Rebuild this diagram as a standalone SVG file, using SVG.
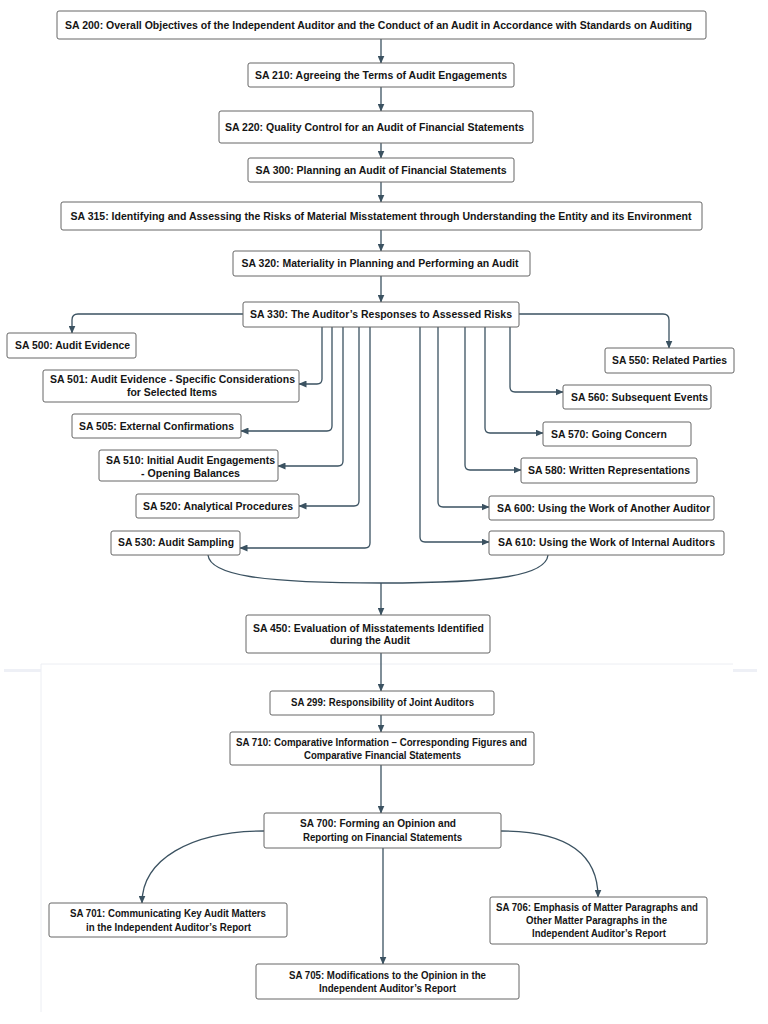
<svg xmlns="http://www.w3.org/2000/svg" width="768" height="1024" viewBox="0 0 768 1024">
<defs>
<marker id="arr" markerUnits="userSpaceOnUse" markerWidth="8" markerHeight="7" refX="7.5" refY="3.5" orient="auto">
<path d="M0,0 L8,3.5 L0,7 z" fill="#3b5261"/>
</marker>
<style>
.box{fill:#fff;stroke:#666;stroke-width:1}
.t{font-family:"Liberation Sans",Arial,sans-serif;font-weight:bold;font-size:10px;fill:#151515;text-anchor:middle}
.c{fill:none;stroke:#3b5261;stroke-width:1.3;marker-end:url(#arr)}
.cn{fill:none;stroke:#3b5261;stroke-width:1.3}
.faint{fill:none;stroke:#eceef3;stroke-width:1}
</style>
</defs>
<rect width="768" height="1024" fill="#fff"/>
<g id="artifacts">
<path class="faint" d="M41,664 H733 M41,664 V1012"/>
<rect x="4" y="669" width="37" height="3" fill="#eef0f6"/>
<rect x="733" y="669" width="24" height="3" fill="#eef0f6"/>
</g>
<g id="connectors">
<path class="c" d="M381,39 V63"/>
<path class="c" d="M381,87 V111"/>
<path class="c" d="M381,143 V158"/>
<path class="c" d="M381,182 V202"/>
<path class="c" d="M381,230 V251"/>
<path class="c" d="M381,276 V302"/>
<path class="c" d="M243,314 H78 Q72,314 72,320 V333"/>
<path class="c" d="M519,314 H663 Q669,314 669,320 V348"/>
<path class="c" d="M322,327 V379 Q322,384 317,384 H299"/>
<path class="c" d="M332,327 V426 Q332,431 327,431 H241"/>
<path class="c" d="M343,327 V461 Q343,466 338,466 H278"/>
<path class="c" d="M359,327 V501 Q359,506 354,506 H299"/>
<path class="c" d="M370,327 V543 Q370,548 365,548 H240"/>
<path class="c" d="M510,327 V387 Q510,392 515,392 H563"/>
<path class="c" d="M485,327 V428 Q485,433 490,433 H543"/>
<path class="c" d="M465,327 V465 Q465,470 470,470 H521"/>
<path class="c" d="M438,327 V502 Q438,507 443,507 H489"/>
<path class="c" d="M420,327 V537 Q420,542 425,542 H489"/>
<path class="cn" d="M208,555 C210,575 260,583 381,583"/>
<path class="cn" d="M548,555 C546,575 500,583 381,583"/>
<path class="c" d="M381,583 V615"/>
<path class="c" d="M381,653 V691"/>
<path class="c" d="M381,715 V732"/>
<path class="c" d="M381,765 V813"/>
<path class="c" d="M264,831 C190,831 142,860 142,903"/>
<path class="c" d="M501,831 C575,831 598,860 598,897"/>
<path class="c" d="M383,848 V964"/>
</g>
<g id="sa200"><rect class="box" x="57" y="11" width="649" height="28" rx="2"/><text class="t" x="378.5" y="28.5" textLength="627" lengthAdjust="spacingAndGlyphs">SA 200: Overall Objectives of the Independent Auditor and the Conduct of an Audit in Accordance with Standards on Auditing</text></g>
<g id="sa210"><rect class="box" x="248" y="63" width="266" height="24" rx="2"/><text class="t" x="381" y="78.5" textLength="252" lengthAdjust="spacingAndGlyphs">SA 210: Agreeing the Terms of Audit Engagements</text></g>
<g id="sa220"><rect class="box" x="219" y="111" width="314" height="32" rx="2"/><text class="t" x="374.5" y="130.5" textLength="299" lengthAdjust="spacingAndGlyphs">SA 220: Quality Control for an Audit of Financial Statements</text></g>
<g id="sa300"><rect class="box" x="248" y="158" width="266" height="24" rx="2"/><text class="t" x="381" y="173.5" textLength="251" lengthAdjust="spacingAndGlyphs">SA 300: Planning an Audit of Financial Statements</text></g>
<g id="sa315"><rect class="box" x="61" y="202" width="641" height="28" rx="2"/><text class="t" x="381" y="219.5" textLength="621" lengthAdjust="spacingAndGlyphs">SA 315: Identifying and Assessing the Risks of Material Misstatement through Understanding the Entity and its Environment</text></g>
<g id="sa320"><rect class="box" x="233" y="251" width="297" height="25" rx="2"/><text class="t" x="380" y="267" textLength="277" lengthAdjust="spacingAndGlyphs">SA 320: Materiality in Planning and Performing an Audit</text></g>
<g id="sa330"><rect class="box" x="243" y="302" width="276" height="25" rx="2"/><text class="t" x="381" y="318" textLength="262" lengthAdjust="spacingAndGlyphs">SA 330: The Auditor’s Responses to Assessed Risks</text></g>
<g id="sa500"><rect class="box" x="7" y="333" width="129" height="25" rx="2"/><text class="t" x="72.5" y="349" textLength="115" lengthAdjust="spacingAndGlyphs">SA 500: Audit Evidence</text></g>
<g id="sa501"><rect class="box" x="43" y="370" width="256" height="32" rx="2"/><text class="t" x="172.5" y="382.5" textLength="245" lengthAdjust="spacingAndGlyphs">SA 501: Audit Evidence - Specific Considerations</text><text class="t" x="172" y="396" textLength="90" lengthAdjust="spacingAndGlyphs">for Selected Items</text></g>
<g id="sa505"><rect class="box" x="72" y="414" width="169" height="24" rx="2"/><text class="t" x="156.5" y="429.5" textLength="155" lengthAdjust="spacingAndGlyphs">SA 505: External Confirmations</text></g>
<g id="sa510"><rect class="box" x="99" y="450" width="179" height="31" rx="2"/><text class="t" x="190.5" y="463.5" textLength="169" lengthAdjust="spacingAndGlyphs">SA 510: Initial Audit Engagements</text><text class="t" x="190.5" y="476.5" textLength="99" lengthAdjust="spacingAndGlyphs">- Opening Balances</text></g>
<g id="sa520"><rect class="box" x="136" y="494" width="163" height="24" rx="2"/><text class="t" x="218" y="509.5" textLength="150" lengthAdjust="spacingAndGlyphs">SA 520: Analytical Procedures</text></g>
<g id="sa530"><rect class="box" x="111" y="531" width="129" height="24" rx="2"/><text class="t" x="176" y="546" textLength="116" lengthAdjust="spacingAndGlyphs">SA 530: Audit Sampling</text></g>
<g id="sa550"><rect class="box" x="605" y="348" width="129" height="25" rx="2"/><text class="t" x="669.5" y="364" textLength="115" lengthAdjust="spacingAndGlyphs">SA 550: Related Parties</text></g>
<g id="sa560"><rect class="box" x="563" y="385" width="148" height="24" rx="2"/><text class="t" x="639.5" y="400.5" textLength="137" lengthAdjust="spacingAndGlyphs">SA 560: Subsequent Events</text></g>
<g id="sa570"><rect class="box" x="543" y="422" width="148" height="24" rx="2"/><text class="t" x="609" y="437.5" textLength="116" lengthAdjust="spacingAndGlyphs">SA 570: Going Concern</text></g>
<g id="sa580"><rect class="box" x="521" y="458" width="176" height="25" rx="2"/><text class="t" x="609" y="474" textLength="162" lengthAdjust="spacingAndGlyphs">SA 580: Written Representations</text></g>
<g id="sa600"><rect class="box" x="489" y="496" width="225" height="24" rx="2"/><text class="t" x="603.5" y="511.5" textLength="213" lengthAdjust="spacingAndGlyphs">SA 600: Using the Work of Another Auditor</text></g>
<g id="sa610"><rect class="box" x="489" y="531" width="235" height="24" rx="2"/><text class="t" x="606.5" y="546" textLength="217" lengthAdjust="spacingAndGlyphs">SA 610: Using the Work of Internal Auditors</text></g>
<g id="sa450"><rect class="box" x="246" y="615" width="244" height="38" rx="2"/><text class="t" x="368.5" y="631.5" textLength="231" lengthAdjust="spacingAndGlyphs">SA 450: Evaluation of Misstatements Identified</text><text class="t" x="370" y="643.5" textLength="80" lengthAdjust="spacingAndGlyphs">during the Audit</text></g>
<g id="sa299"><rect class="box" x="270" y="691" width="224" height="24" rx="2"/><text class="t" x="382.5" y="706" textLength="183" lengthAdjust="spacingAndGlyphs">SA 299: Responsibility of Joint Auditors</text></g>
<g id="sa710"><rect class="box" x="230" y="732" width="304" height="33" rx="2"/><text class="t" x="381.5" y="745.5" textLength="291" lengthAdjust="spacingAndGlyphs">SA 710: Comparative Information – Corresponding Figures and</text><text class="t" x="382.5" y="758.5" textLength="157" lengthAdjust="spacingAndGlyphs">Comparative Financial Statements</text></g>
<g id="sa700"><rect class="box" x="264" y="813" width="237" height="35" rx="2"/><text class="t" x="378" y="826.5" textLength="156" lengthAdjust="spacingAndGlyphs">SA 700: Forming an Opinion and</text><text class="t" x="382.5" y="840.5" textLength="159" lengthAdjust="spacingAndGlyphs">Reporting on Financial Statements</text></g>
<g id="sa701"><rect class="box" x="49" y="903" width="238" height="34" rx="2"/><text class="t" x="168" y="916.5" textLength="196" lengthAdjust="spacingAndGlyphs">SA 701: Communicating Key Audit Matters</text><text class="t" x="168.5" y="930.5" textLength="165" lengthAdjust="spacingAndGlyphs">in the Independent Auditor’s Report</text></g>
<g id="sa705"><rect class="box" x="256" y="964" width="263" height="35" rx="2"/><text class="t" x="387.5" y="978.5" textLength="197" lengthAdjust="spacingAndGlyphs">SA 705: Modifications to the Opinion in the</text><text class="t" x="387.5" y="991.5" textLength="137" lengthAdjust="spacingAndGlyphs">Independent Auditor’s Report</text></g>
<g id="sa706"><rect class="box" x="490" y="897" width="217" height="47" rx="2"/><text class="t" x="597" y="910.5" textLength="202" lengthAdjust="spacingAndGlyphs">SA 706: Emphasis of Matter Paragraphs and</text><text class="t" x="596.5" y="923.5" textLength="141" lengthAdjust="spacingAndGlyphs">Other Matter Paragraphs in the</text><text class="t" x="599" y="936.5" textLength="134" lengthAdjust="spacingAndGlyphs">Independent Auditor’s Report</text></g>
</svg>
